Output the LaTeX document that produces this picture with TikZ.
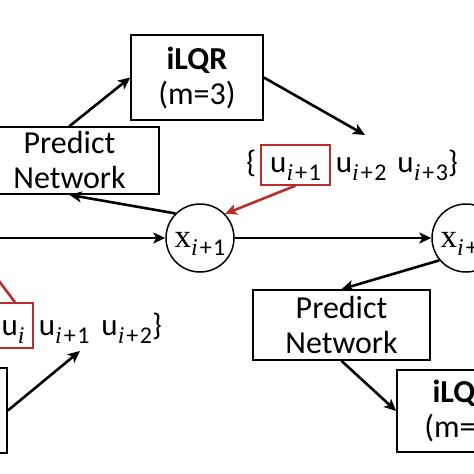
\documentclass[tikz,border=0pt]{standalone}
\usepackage{fontspec}
\setmainfont{Carlito}
\newfontfamily\serf{Liberation Serif}
\usetikzlibrary{arrows.meta}
\definecolor{redc}{RGB}{185,45,45}
\newcommand\sbx[1]{\raisebox{-8pt}{\fontsize{24}{24}\selectfont #1}}
\newcommand\ix[1]{{\serf\itshape i}\kern2pt+\kern1.5pt#1}
\newcommand\uu[1]{u\sbx{#1}}
\newcommand\xx[1]{{\serf x}\sbx{#1}}
\begin{document}
\begin{tikzpicture}[x=1pt,y=-1pt,
  box/.style={draw, line width=1.7pt, inner sep=0, align=center, font=\fontsize{32}{35}\selectfont},
  circ/.style={draw, circle, line width=1.5pt, minimum size=68pt, inner sep=0, text height=22pt, text depth=4pt, font=\fontsize{33}{33}\selectfont},
  redbox/.style={draw=redc, line width=1.4pt, inner sep=0, font=\fontsize{31}{31}\selectfont},
  settxt/.style={inner sep=0, font=\fontsize{31}{31}\selectfont},
  arr/.style={line width=2.6pt, -{Stealth[length=12pt,width=11pt,inset=3pt]}},
  rarr/.style={arr, draw=redc}]
\useasboundingbox (0,0) rectangle (474,474);
\clip (0,0) rectangle (474,474);
% boxes
\node[box, minimum width=132pt, minimum height=85pt] (ilqrA) at (197,77.5) {\textbf{iLQR}\\(m=3)};
\node[box, minimum width=179pt, minimum height=67pt] (predA) at (69.5,160.5) {Predict\\Network};
\node[box, minimum width=177pt, minimum height=70pt] (predB) at (341.5,325) {Predict\\Network};
\node[box, minimum width=132pt, minimum height=82pt] (ilqrB) at (463,411) {\textbf{iLQR}\\(m=3)};
\node[box, minimum width=132pt, minimum height=85pt] (ilqrC) at (-59,410.5) {};
% states
\node[circ] (cPrev) at (-64,238) {};
\node[circ] (cA) at (200,238) {\xx{\ix{1}}};
\node[circ] (cB) at (466,238) {\xx{\ix{2}}};
% control sets
\node[redbox, text height=27pt, text depth=13pt, minimum width=69pt] (uA) at (295.5,165) {\uu{\ix{1}}};
\node[settxt, anchor=base east] (lbA) at ([xshift=-4pt]uA.base west) {\{};
\node[settxt, anchor=base west] (restA) at ([xshift=5pt]uA.base east) {\uu{\ix{2}}\hspace{11pt}\uu{\ix{3}}\}};
\node[redbox, text height=32pt, text depth=13pt, minimum width=40pt] (uB) at (13,325.5) {\uu{{\serf\itshape i}}};
\node[settxt, anchor=base east] (lbB) at ([xshift=-4pt]uB.base west) {\{};
\node[settxt, anchor=base west] (restB) at ([xshift=5pt]uB.base east) {\uu{\ix{1}}\hspace{12pt}\uu{\ix{2}}\}};
\coordinate (tA) at (365,135);
\coordinate (tB) at (80,351);
% connectors
\draw[arr] (predA.north) -- (ilqrA.west);
\draw[arr] (ilqrA.east) -- (tA);
\draw[rarr] (uA.south) -- (cA.44);
\draw[arr] (cA.135) -- (predA.south);
\draw[arr] (cPrev) -- (cA);
\draw[arr] (cA) -- (cB);
\draw[arr] (cB.220) -- (predB.north);
\draw[arr] (predB.south) -- (ilqrB.west);
\draw[arr] (ilqrC.east) -- (tB);
\draw[rarr] ([xshift=2pt]uB.north) -- (cPrev.-8);
\end{tikzpicture}
\end{document}
